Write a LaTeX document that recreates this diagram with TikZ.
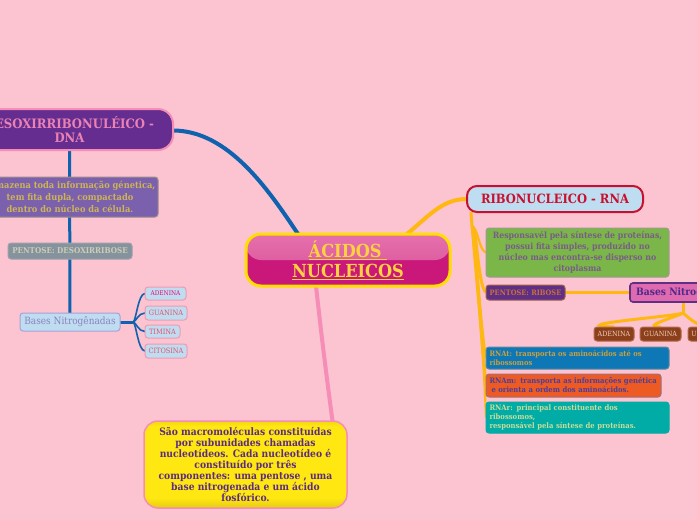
\documentclass[tikz,border=0pt]{standalone}
\usepackage{fontspec}
\setmainfont{DejaVu Serif Condensed}
\usetikzlibrary{backgrounds,calc}
\definecolor{bgpink}{HTML}{FCC3D0}
\definecolor{wireblue}{HTML}{0F62AE}
\definecolor{wireorange}{HTML}{FFB812}
\definecolor{wirepink}{HTML}{F58DB6}
\definecolor{kidfill}{HTML}{BFDDF0}
\definecolor{kidred}{HTML}{E2506C}
\definecolor{kidedge}{HTML}{EE9AB4}
\definecolor{kidbrown}{HTML}{8C3F1C}
\definecolor{kidbrownedge}{HTML}{B06A48}
\definecolor{kidtext}{HTML}{F2CDB4}
\definecolor{hubyellow}{HTML}{FFDE00}
\definecolor{main1}{HTML}{C9187A}
\definecolor{main2}{HTML}{E570AC}
\definecolor{main3}{HTML}{D94F98}
\definecolor{maintext}{HTML}{FFD23F}
\definecolor{dnafill}{HTML}{652D90}
\definecolor{dnatext}{HTML}{EA82B4}
\definecolor{dnainfoedge}{HTML}{A08C8C}
\definecolor{dnainfofill}{HTML}{7B60AE}
\definecolor{dnainfotext}{HTML}{CDB455}
\definecolor{dnapentedge}{HTML}{A0A0A8}
\definecolor{dnapentfill}{HTML}{84939E}
\definecolor{dnapenttext}{HTML}{CFCDB4}
\definecolor{dnabasesedge}{HTML}{A8A0D8}
\definecolor{dnabasestext}{HTML}{8C80C0}
\definecolor{rnaedge}{HTML}{C8102E}
\definecolor{rnagreen}{HTML}{7AB648}
\definecolor{rnagreenedge}{HTML}{A09A90}
\definecolor{rnagreentext}{HTML}{7A5C8A}
\definecolor{rnapurple}{HTML}{5F2F85}
\definecolor{rnapentedge}{HTML}{A0604A}
\definecolor{rnapenttext}{HTML}{C8703C}
\definecolor{rnabasefill}{HTML}{E06AB0}
\definecolor{rnabasetext}{HTML}{4B2A8A}
\definecolor{rnatedge}{HTML}{5A8AA0}
\definecolor{rnatfill}{HTML}{0E77B6}
\definecolor{rnattext}{HTML}{C8A040}
\definecolor{rnamedge}{HTML}{A0707A}
\definecolor{rnamfill}{HTML}{EE5A24}
\definecolor{rnamtext}{HTML}{4B3F9A}
\definecolor{rnarfill}{HTML}{00ACA5}
\definecolor{rnartext}{HTML}{C8DC9A}
\definecolor{descA}{HTML}{F0D810}
\definecolor{descB}{HTML}{FFE812}
\definecolor{descC}{HTML}{E6CC12}
\definecolor{desctext}{HTML}{5B2C82}
\pgfdeclareverticalshading{descshade}{100bp}{color(0bp)=(descC); color(25bp)=(descC); color(31bp)=(descB); color(72bp)=(descB); color(75bp)=(descA); color(100bp)=(descA)}
\newcommand{\bx}[7]{%
  \pgfmathsetmacro{\bxw}{#4-#2}\pgfmathsetmacro{\bxh}{#5-#3}%
  \pgfmathsetmacro{\bxa}{(#2+#4)/2}\pgfmathsetmacro{\bxb}{(#3+#5)/2}%
  \node[basebox,minimum width=\bxw pt,minimum height=\bxh pt,#6] (#1) at (\bxa,\bxb) {#7};}
\tikzset{
  x=1pt,y=-1pt,
  basebox/.style={inner sep=0pt,outer sep=0pt,align=center,rounded corners=3pt,line width=1pt,font=\bfseries},
  fs/.style={font=\bfseries\fontsize{#1}{\fpeval{#1*1.12}}\selectfont},
  fsl/.style 2 args={font=\bfseries\fontsize{#1}{#2}\selectfont},
  wireB/.style={draw=wireblue,line width=3pt},
  wireBthin/.style={draw=wireblue,line width=1.6pt},
  wireO/.style={draw=wireorange,line width=3pt},
  wireOthin/.style={draw=wireorange,line width=2.2pt},
  wireP/.style={draw=wirepink,line width=4pt},
  bluekid/.style={draw=kidedge,fill=kidfill,text=kidred,font=\fontsize{7.3}{9}\selectfont},
  brownkid/.style={draw=kidbrownedge,fill=kidbrown,text=kidtext,font=\fontsize{7.1}{9}\selectfont},
}
\begin{document}
\begin{tikzpicture}
\useasboundingbox (0,0) rectangle (697,520);
\begin{scope}
\clip (0,0) rectangle (697,520);
% central node
\bx{main}{246}{234}{450}{286}{draw=hubyellow,line width=3pt,rounded corners=15pt,
  fill=main1,fs=18,text=maintext,
  path picture={\shade[top color=main2,bottom color=main3]
    (path picture bounding box.north west) rectangle (path picture bounding box.east);}}
  {\underline{ÁCIDOS\ }\\\underline{NUCLEICOS}}
% DNA branch
\bx{dna}{-34}{109}{173}{150}{draw=wirepink,line width=2pt,rounded corners=15pt,fill=dnafill,text=dnatext,fs=13}
  {DESOXIRRIBONULÉICO -\\DNA}
\bx{dnainfo}{-18}{177}{158}{217}{draw=dnainfoedge,fill=dnainfofill,text=dnainfotext,fsl={9.2}{12}}
  {Armazena toda informação génetica,\\tem fita dupla, compactado\\dentro do núcleo da célula.}
\bx{dnapent}{8}{243}{132}{259}{draw=dnapentedge,fill=dnapentfill,text=dnapenttext,fs=8}
  {PENTOSE: DESOXIRRIBOSE}
\bx{dnabases}{20}{313}{120}{331}{draw=dnabasesedge,fill=kidfill,text=dnabasestext,font=\fontsize{10}{12}\selectfont}
  {Bases Nitrogênadas}
\bx{ka}{145}{287}{186}{300}{bluekid,text=magenta!80!red,font=\fontsize{6.5}{8}\selectfont}{ADENINA}
\bx{kg}{145}{306}{187}{320}{bluekid}{GUANINA}
\bx{kt}{145}{325}{180}{338}{bluekid}{TIMINA}
\bx{kc}{145}{344}{187}{358}{bluekid}{CITOSINA}
% RNA branch
\bx{rna}{467}{186}{643}{212}{draw=rnaedge,line width=2pt,rounded corners=10pt,fill=kidfill,text=rnaedge,fs=12.8}
  {RIBONUCLEICO - RNA}
\bx{rnainfo}{486}{228}{669}{277}{draw=rnagreenedge,fill=rnagreen,text=rnagreentext,fsl={8.7}{11}}
  {Responsavél pela síntese de proteínas,\\possui fita simples, produzido no\\núcleo mas encontra-se disperso no\\citoplasma}
\bx{rnapent}{486}{285}{565}{300}{draw=rnapentedge,fill=rnapurple,text=rnapenttext,fs=7.4}
  {PENTOSE: RIBOSE}
\bx{rnabases}{630}{283}{745}{302}{draw=rnapurple,line width=1.6pt,fill=rnabasefill,text=rnabasetext,fs=10.2}
  {Bases Nitrogênadas}
\bx{ra}{594}{327}{634}{341}{brownkid}{ADENINA}
\bx{rg}{640}{327}{681}{341}{brownkid}{GUANINA}
\bx{ru}{688}{327}{726}{341}{brownkid}{URACILA}
\bx{rnat}{486}{347}{669}{369}{draw=rnatedge,fill=rnatfill,text=rnattext,fsl={7.5}{9},align=left,text width=176pt}
  {RNAt: transporta os aminoácidos até os\\ribossomos}
\bx{rnam}{486}{374}{661}{397}{draw=rnamedge,fill=rnamfill,text=rnamtext,fsl={7.6}{9},align=left,text width=168pt}
  {RNAm: transporta as informações genética\\\hspace*{2pt}e orienta a ordem dos aminoácidos.}
\bx{rnar}{486}{402}{669}{433}{draw=rnarfill,fill=rnarfill,text=rnartext,fsl={7.6}{8.8},align=left,text width=176pt}
  {RNAr: principal constituente dos\\ribossomos,\\responsável pela síntese de proteínas.}
% description node
\bx{desc}{144}{421}{347}{508}{draw=wirepink,line width=1.5pt,rounded corners=14pt,shading=descshade,text=desctext,fsl={10.2}{11}}
  {São macromoléculas constituídas\\por subunidades chamadas\\nucleotídeos. Cada nucleotídeo é\\constituído por três\\componentes: uma pentose , uma\\base nitrogenada e um ácido\\fosfórico.}
\end{scope}
% connectors
\begin{pgfonlayer}{background}
\fill[bgpink] (0,0) rectangle (697,520);
\begin{scope}
\clip (0,0) rectangle (697,520);
\coordinate (mainblue) at ($(main.north)+(-50,0)$);
\coordinate (mainorange) at ($(main.north)+(59,0)$);
\coordinate (mainpink) at ($(main.south)+(-32,0)$);
\coordinate (descpink) at ($(desc.north)+(87,0)$);
\coordinate (dnaout) at ($(dna.east)+(0,1)$);
\draw[wireB,line width=4pt] (dnaout) .. controls +(55,0) and +(-30,-45) .. (mainblue);
\draw[wireO,line width=4pt] (mainorange) .. controls +(22,-18) and +(-25,0) .. (rna.west);
\draw[wireP] (mainpink) .. controls +(5,45) and +(-8,-60) .. (descpink);
% DNA tree
\draw[wireB] (dna.south) -- (dnabases.north);
\coordinate (dnajoint) at ($(dnabases.east)+(13,0)$);
\draw[wireB] (dnabases.east) -- (dnajoint);
\foreach \k in {ka,kg,kt,kc}{
  \draw[wireBthin] (dnajoint) .. controls +(3,0) and +(-7,0) .. (\k.west);}
% RNA tree
\coordinate (rnatop) at ($(rna.south west)+(4,0)$);
\coordinate (rnaknee) at ($(rnatop)+(1,14)$);
\draw[wireO] (rnatop) -- (rnaknee);
\draw[wireOthin] (rnaknee) .. controls +(6,2) and +(-7,-2) .. (rnainfo.west);
\draw[wireO] (rnaknee) .. controls +(5,3) and +(-8,-6) .. (rnapent.west);
\draw[wireOthin] (rnaknee) .. controls +(6,40) and +(-6,-40) .. (rnat.west);
\draw[wireO] (rnaknee) .. controls +(6,50) and +(-5,-50) .. (rnam.west);
\draw[wireOthin] (rnaknee) .. controls +(5,70) and +(-3,-80) .. (rnar.west);
\draw[wireO] (rnapent.east) -- (rnabases.west);
\coordinate (rnaout) at (683,302);
\coordinate (rnajoint) at (683,313);
\draw[wireO] (rnaout) -- (rnajoint);
\draw[wireO] (rnajoint) .. controls +(-4,3) and +(-55,-2) .. (ra.north);
\draw[wireO] (rnajoint) .. controls +(-4,3) and +(-22,0) .. (rg.north);
\draw[wireO] (rnajoint) .. controls +(4,3) and +(-12,-2) .. (ru.north);
\end{scope}
\end{pgfonlayer}
\end{tikzpicture}
\end{document}
